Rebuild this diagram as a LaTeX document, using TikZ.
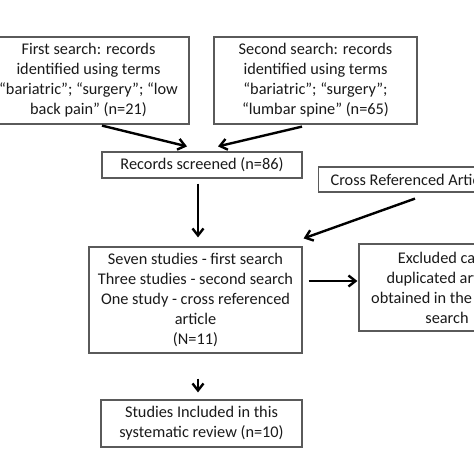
\documentclass[tikz,border=0pt]{standalone}
\usepackage{fontspec}
\setmainfont{Carlito}
\usepackage{xcolor}
\usetikzlibrary{calc}
\usetikzlibrary{arrows.meta}

\definecolor{boxline}{HTML}{5A5A5A}
\definecolor{boxtext}{HTML}{1A1A1A}

\begin{document}
\begin{tikzpicture}[x=1pt,y=-1pt,
  flowbox/.style={draw=boxline,line width=1.2pt,fill=white,text=boxtext,
    align=center,inner sep=2pt,font=\fontsize{16.3}{20}\selectfont},
  arr/.style={-{Straight Barb[length=7pt,width=11pt]},line width=2.4pt,black}]
\useasboundingbox (0,0) rectangle (474,474);
\clip (0,0) rectangle (474,474);

% Search boxes
\node[flowbox,minimum width=201pt,minimum height=87pt] (first) at (88.5,80.5)
  {First search: records\\identified using terms\\``bariatric''; ``surgery''; ``low\\back pain'' (n=21)};
\node[flowbox,minimum width=203pt,minimum height=87pt] (second) at (315.5,80.5)
  {Second search: records\\identified using terms\\``bariatric''; ``surgery'';\\``lumbar spine'' (n=65)};

% Screening
\node[flowbox,minimum width=200pt,minimum height=26pt] (screened) at (202,165)
  {Records screened (n=86)};
\node[flowbox,anchor=west,minimum height=25pt,inner xsep=12pt] (cross) at (318,179.5)
  {Cross Referenced Articles};

% Studies found
\node[flowbox,minimum width=213pt,minimum height=106pt] (found) at (195.5,300)
  {Seven studies - first search\\Three studies - second search\\One study - cross referenced\\article\\(N=11)};
\node[flowbox,minimum width=176pt,minimum height=87pt] (excluded) at (447,287.5)
  {Excluded cases\\duplicated articles\\obtained in the second\\search};

% Final
\node[flowbox,minimum width=201pt,minimum height=47pt] (included) at (201.5,423.5)
  {Studies Included in this\\systematic review (n=10)};

% Connectors
\coordinate (exctip) at ([xshift=-1pt,yshift=6.5pt]excluded.west);
\draw[arr] ([xshift=13.5pt,yshift=-1pt]first.south) -- ([xshift=-15pt,yshift=5pt]screened.north);
\draw[arr] ([xshift=-13.5pt,yshift=-2pt]second.south) -- ([xshift=16pt,yshift=5pt]screened.north);
\draw[arr] ([xshift=-4pt,yshift=-5pt]screened.south) -- ([xshift=2.5pt,yshift=9pt]found.north);
\draw[arr] ([xshift=97pt,yshift=-6pt]cross.south west) -- ([xshift=1pt,yshift=8pt]found.north east);
\draw[arr] ([xshift=6pt,yshift=19pt]found.east) -- (exctip);
\draw[arr] ([xshift=2.5pt,yshift=-25pt]found.south) -- ([xshift=-3.5pt,yshift=7pt]included.north);
\end{tikzpicture}
\end{document}
